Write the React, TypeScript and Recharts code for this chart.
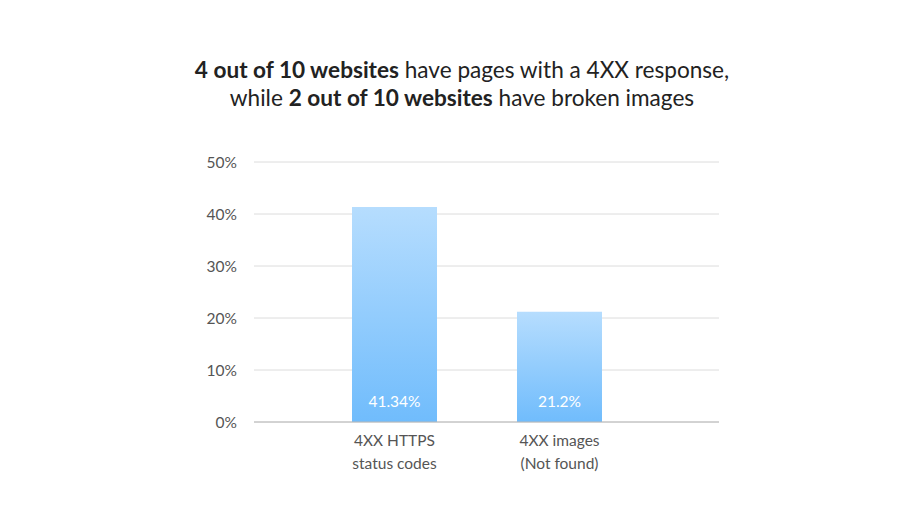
import React from "react";
import { Bar, BarChart, CartesianGrid, LabelList, XAxis, YAxis } from "recharts";

const categories = ["4XX HTTPS\nstatus codes", "4XX images\n(Not found)"];
const shares = [41.34, 21.2];
const valueLabels = ["41.34%", "21.2%"];
const yTicks = [0, 10, 20, 30, 40, 50];

const data = categories.map((name, i) => ({ name, share: shares[i], label: valueLabels[i] }));

const FONT = "Lato, 'Noto Sans', sans-serif";

function CategoryTick({ x, y, payload }: any) {
  const lines = String(payload.value).split("\n");
  return (
    <text x={x} y={y} textAnchor="middle" fill="#555" fontSize={15.5} fontFamily={FONT}>
      {lines.map((l, i) => (
        <tspan key={i} x={x} dy={i === 0 ? 16 : 23}>
          {l}
        </tspan>
      ))}
    </text>
  );
}

export default function App() {
  return (
    <div style={{ position: "absolute", left: 0, top: 0, width: 924, height: 526, background: "#fff", fontFamily: FONT }}>
      <div
        style={{
          position: "absolute",
          top: 56,
          left: 0,
          width: 924,
          textAlign: "center",
          fontSize: 22.6,
          lineHeight: "28px",
          color: "#222",
        }}
      >
        <b>4 out of 10 websites</b> have pages with a 4XX response,
        <br />
        while <b>2 out of 10 websites</b> have broken images
      </div>
      <BarChart width={924} height={526} data={data} margin={{ top: 162, right: 205, bottom: 74, left: 194 }}>
        <defs>
          <linearGradient id="barFill" x1="0" y1="0" x2="0" y2="1">
            <stop offset="0%" stopColor="#b6ddfe" />
            <stop offset="100%" stopColor="#70bcfc" />
          </linearGradient>
        </defs>
        <CartesianGrid vertical={false} stroke="#dcdcdc" />
        <XAxis
          dataKey="name"
          height={30}
          axisLine={{ stroke: "#b8b8b8" }}
          tickLine={false}
          tick={<CategoryTick />}
          padding={{ left: 58, right: 77 }}
          interval={0}
        />
        <YAxis
          width={60}
          domain={[0, 50]}
          ticks={yTicks}
          tickFormatter={(v) => `${v}%`}
          axisLine={false}
          tickLine={false}
          tickSize={0}
          tickMargin={17}
          tick={{ fill: "#555", fontSize: 15.5, fontFamily: FONT }}
        />
        <Bar dataKey="share" fill="url(#barFill)" barSize={85} isAnimationActive={false}>
          <LabelList dataKey="label" position="insideBottom" offset={15} fill="#fff" fontSize={15.5} fontFamily={FONT} />
        </Bar>
      </BarChart>
    </div>
  );
}
